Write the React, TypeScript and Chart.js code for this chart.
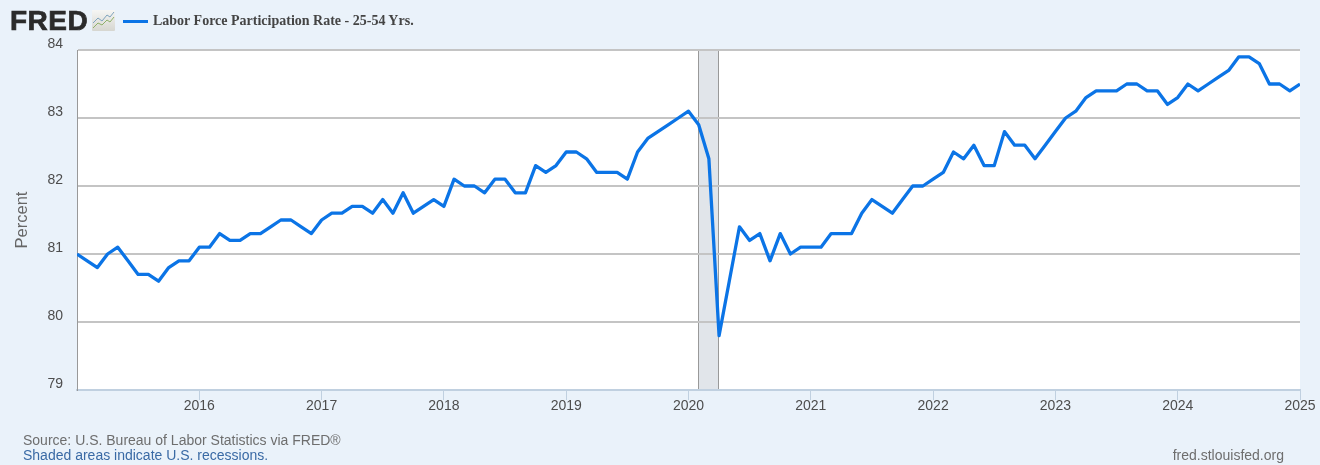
import { useEffect, useRef } from 'react';
import { Chart, registerables } from 'chart.js';

Chart.register(...registerables);

const FIRST_YEAR = 2015;

// monthly values, one array per year
const rate2015 = [81.0, 80.9, 80.8, 81.0, 81.1, 80.9, 80.7, 80.7, 80.6, 80.8, 80.9, 80.9];
const rate2016 = [81.1, 81.1, 81.3, 81.2, 81.2, 81.3, 81.3, 81.4, 81.5, 81.5, 81.4, 81.3];
const rate2017 = [81.5, 81.6, 81.6, 81.7, 81.7, 81.6, 81.8, 81.6, 81.9, 81.6, 81.7, 81.8];
const rate2018 = [81.7, 82.1, 82.0, 82.0, 81.9, 82.1, 82.1, 81.9, 81.9, 82.3, 82.2, 82.3];
const rate2019 = [82.5, 82.5, 82.4, 82.2, 82.2, 82.2, 82.1, 82.5, 82.7, 82.8, 82.9, 83.0];
const rate2020 = [83.1, 82.9, 82.4, 79.8, 80.6, 81.4, 81.2, 81.3, 80.9, 81.3, 81.0, 81.1];
const rate2021 = [81.1, 81.1, 81.3, 81.3, 81.3, 81.6, 81.8, 81.7, 81.6, 81.8, 82.0, 82.0];
const rate2022 = [82.1, 82.2, 82.5, 82.4, 82.6, 82.3, 82.3, 82.8, 82.6, 82.6, 82.4, 82.6];
const rate2023 = [82.8, 83.0, 83.1, 83.3, 83.4, 83.4, 83.4, 83.5, 83.5, 83.4, 83.4, 83.2];
const rate2024 = [83.3, 83.5, 83.4, 83.5, 83.6, 83.7, 83.9, 83.9, 83.8, 83.5, 83.5, 83.4];
const rate2025 = [83.5];

const rates = [
  ...rate2015, ...rate2016, ...rate2017, ...rate2018, ...rate2019, ...rate2020,
  ...rate2021, ...rate2022, ...rate2023, ...rate2024, ...rate2025,
];

// months since Jan 2015: Feb 2020 to Apr 2020
const recessions = [[61, 63]];

const seriesName = 'Labor Force Participation Rate - 25-54 Yrs.';
const sans = '"Liberation Sans", Arial, sans-serif';

const plotBackground = {
  id: 'plotBackground',
  beforeDraw(chart: Chart) {
    const { ctx, chartArea, scales } = chart;
    ctx.save();
    ctx.fillStyle = '#ffffff';
    ctx.fillRect(chartArea.left, chartArea.top, chartArea.width, chartArea.height);
    for (const [from, to] of recessions) {
      const x0 = Math.floor(scales.x.getPixelForValue(from));
      const x1 = Math.floor(scales.x.getPixelForValue(to)) - 1;
      ctx.fillStyle = '#e1e5ea';
      ctx.fillRect(x0, chartArea.top, x1 - x0, chartArea.height);
      ctx.fillStyle = '#999999';
      ctx.fillRect(x0, chartArea.top, 1, chartArea.height);
      ctx.fillRect(x1, chartArea.top, 1, chartArea.height);
    }
    ctx.restore();
  },
};

export default function App() {
  const chartRef = useRef<HTMLCanvasElement>(null);

  useEffect(() => {
    if (!chartRef.current) return;
    document.body.style.margin = '0';

    const chart = new Chart(chartRef.current, {
      type: 'line',
      data: {
        datasets: [
          {
            label: seriesName,
            data: rates.map((y, x) => ({ x, y })),
            borderColor: '#0b74e6',
            borderWidth: 3.3,
            pointRadius: 0,
            tension: 0,
            borderJoinStyle: 'round',
          },
        ],
      },
      options: {
        responsive: false,
        animation: false,
        layout: { padding: { top: 50, right: 20, bottom: 0, left: 0 } },
        plugins: {
          legend: { display: false },
          tooltip: { enabled: false },
        },
        scales: {
          x: {
            type: 'linear',
            min: 0,
            max: 120,
            afterFit: (scale) => {
              scale.height = 75;
            },
            ticks: {
              stepSize: 12,
              maxRotation: 0,
              padding: -2,
              color: '#4d4d4d',
              font: { family: sans, size: 14 },
              callback: (v) => (v === 0 ? '' : String(FIRST_YEAR + Number(v) / 12)),
            },
            grid: {
              drawOnChartArea: false,
              drawTicks: true,
              tickLength: 10,
              color: (c) => (c.tick.value === 0 ? 'rgba(0,0,0,0)' : '#c0d0e0'),
            },
            border: { color: '#c0d0e0', width: 2 },
          },
          y: {
            min: 79,
            max: 84,
            afterFit: (scale) => {
              scale.width = 77;
            },
            title: {
              display: true,
              text: 'Percent',
              color: '#666666',
              font: { family: sans, size: 16.5 },
              padding: { top: 13, bottom: 0 },
            },
            ticks: {
              stepSize: 1,
              padding: 14,
              labelOffset: -6,
              color: '#4d4d4d',
              font: { family: sans, size: 14 },
            },
            grid: {
              drawTicks: false,
              lineWidth: 2,
              color: (c) => (c.tick.value === 79 ? 'rgba(0,0,0,0)' : '#c4c4c4'),
            },
            border: { color: '#999999', width: 1 },
          },
        },
      },
      plugins: [plotBackground],
    });

    return () => {
      chart.destroy();
    };
  }, []);

  return (
    <div style={{ position: 'relative', width: 1320, height: 465, background: '#eaf2fa', overflow: 'hidden' }}>
      <canvas ref={chartRef} width={1320} height={465} style={{ display: 'block' }} />
      <div style={{ position: 'absolute', left: 10, top: 3, fontFamily: sans, fontWeight: 700, fontSize: 28, letterSpacing: 0.5, color: '#2b2b2b', lineHeight: '36px', WebkitTextStroke: '0.7px #2b2b2b' }}>
        FRED
      </div>
      <svg width="23" height="21" viewBox="0 0 23 21" style={{ position: 'absolute', left: 92, top: 10 }}>
        <defs>
          <linearGradient id="iconFill" x1="0" y1="0" x2="0" y2="1">
            <stop offset="0" stopColor="#f6f6f4" />
            <stop offset="1" stopColor="#d6d6d0" />
          </linearGradient>
        </defs>
        <rect width="23" height="21" rx="1" fill="url(#iconFill)" />
        <polyline points="1,13 6,8 10,11 15,5 18,7 22,2" fill="none" stroke="#7fa3bd" strokeWidth="1" />
        <polyline points="1,18 6,13 10,15 15,10 18,12 22,7" fill="none" stroke="#8fb06a" strokeWidth="1" />
      </svg>
      <div style={{ position: 'absolute', left: 123, top: 20, width: 25, height: 3, background: '#0b74e6' }} />
      <div style={{ position: 'absolute', left: 153, top: 12, fontFamily: '"Liberation Serif", serif', fontWeight: 700, fontSize: 14, color: '#444444', lineHeight: '17px', whiteSpace: 'nowrap' }}>
        {seriesName}
      </div>
      <div style={{ position: 'absolute', left: 23, top: 432, fontFamily: sans, fontSize: 14, color: '#6e6e6e', lineHeight: '17px', whiteSpace: 'nowrap' }}>
        Source: U.S. Bureau of Labor Statistics via FRED®
      </div>
      <div style={{ position: 'absolute', left: 23, top: 447, fontFamily: sans, fontSize: 14, color: '#3a6aa5', lineHeight: '17px', whiteSpace: 'nowrap' }}>
        Shaded areas indicate U.S. recessions.
      </div>
      <div style={{ position: 'absolute', right: 36, top: 447, fontFamily: sans, fontSize: 14, color: '#6e6e6e', lineHeight: '17px', whiteSpace: 'nowrap' }}>
        fred.stlouisfed.org
      </div>
    </div>
  );
}
